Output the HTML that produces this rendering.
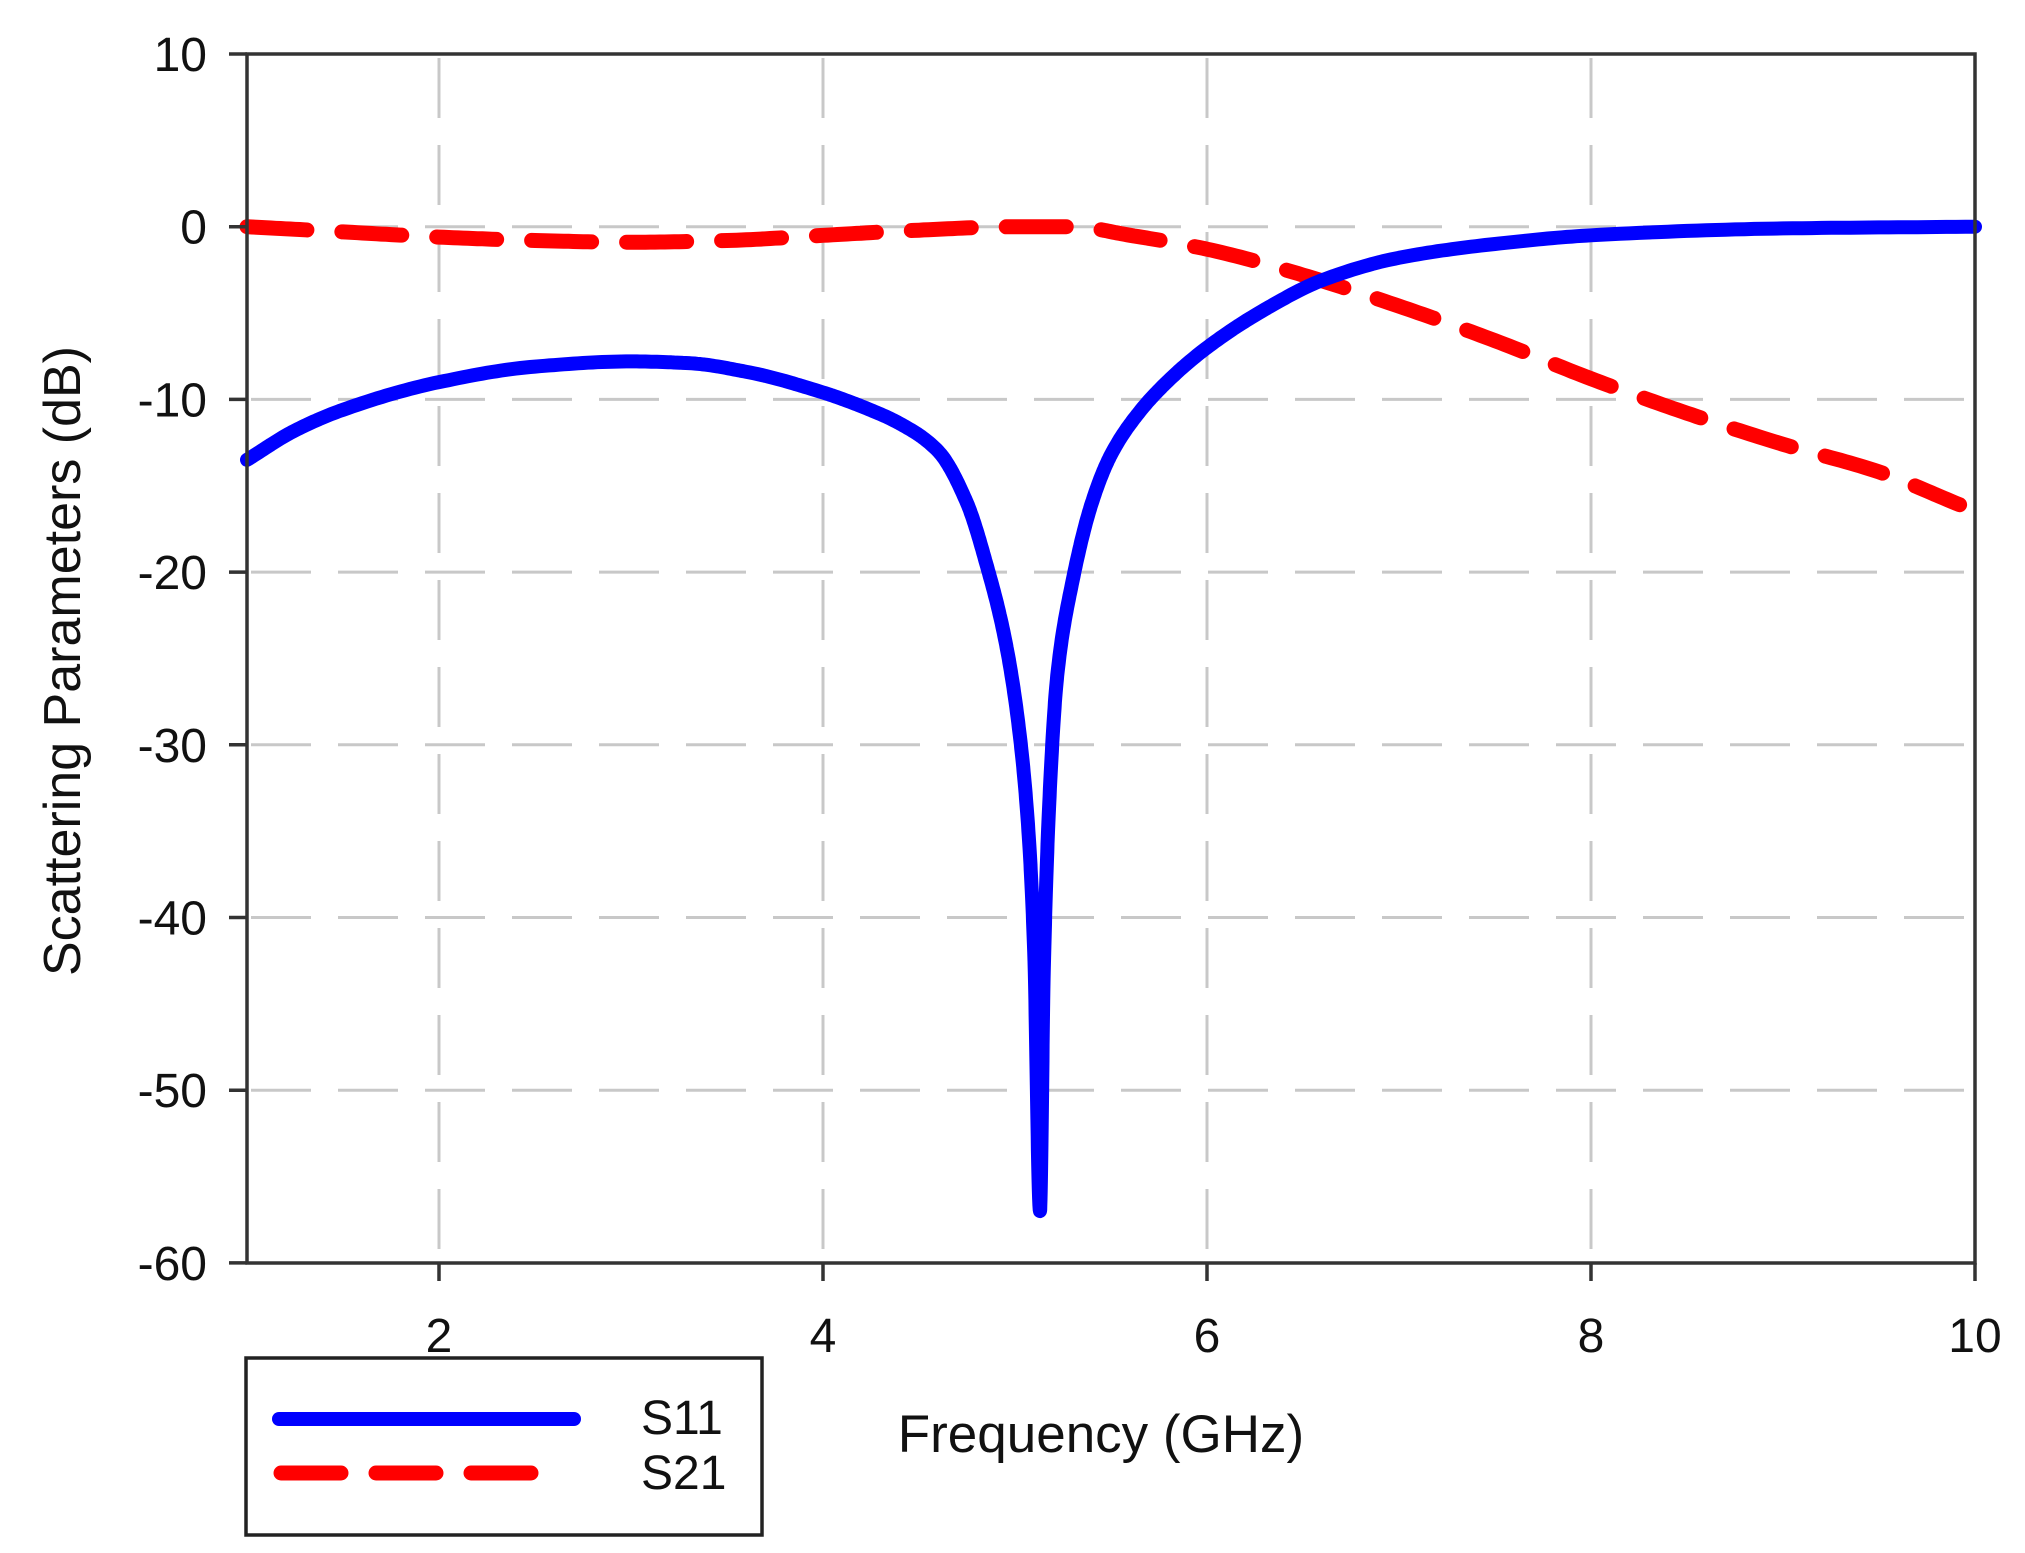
<!DOCTYPE html>
<html><head><meta charset="utf-8"><style>
html,body{margin:0;padding:0;background:#fff;}
svg{display:block;font-family:"Liberation Sans",Arial,sans-serif;}
</style></head><body>
<svg id="c" width="2025" height="1553" viewBox="0 0 2025 1553" xmlns="http://www.w3.org/2000/svg">
<rect width="2025" height="1553" fill="#fff"/>
<g id="grid" stroke="#c8c8c8" stroke-width="3" stroke-dasharray="60 27"></g>
<path id="s21" fill="none" stroke="#ff0000" stroke-width="15" stroke-linecap="round" stroke-linejoin="round" stroke-dasharray="60 35"/>
<path id="s11" fill="none" stroke="#0000ff" stroke-width="14" stroke-linecap="round" stroke-linejoin="round"/>
<rect x="247" y="54" width="1728" height="1209" fill="none" stroke="#333" stroke-width="3.5"/>
<g id="ticks" stroke="#333" stroke-width="3.5"></g>
<g id="labels" font-size="48" fill="#111"></g>
<text x="1101" y="1452" font-size="53" text-anchor="middle" fill="#111">Frequency (GHz)</text>
<text transform="translate(80,661) rotate(-90)" font-size="52" text-anchor="middle" fill="#111">Scattering Parameters (dB)</text>
<rect x="246" y="1358" width="516" height="177" fill="none" stroke="#222" stroke-width="3.5"/>
<line x1="279" y1="1419" x2="574" y2="1419" stroke="#0000ff" stroke-width="14" stroke-linecap="round"/>
<line x1="281" y1="1473" x2="545" y2="1473" stroke="#ff0000" stroke-width="15" stroke-linecap="round" stroke-dasharray="60 35"/>
<text x="641" y="1434" font-size="48" fill="#111">S11</text>
<text x="641" y="1489" font-size="48" fill="#111">S21</text>
</svg>
<script>
var X=function(f){return 247+(f-1)*192;};
var Y=function(d){return 226.7-d*17.27;};
var ns="http://www.w3.org/2000/svg";
function el(p,t,a,txt){var e=document.createElementNS(ns,t);for(var k in a)e.setAttribute(k,a[k]);if(txt!==undefined)e.textContent=txt;document.getElementById(p).appendChild(e);}
[2,4,6,8].forEach(function(f){el("grid","line",{x1:X(f),y1:Y(10)+4,x2:X(f),y2:Y(-60),});});
[0,-10,-20,-30,-40,-50].forEach(function(d){el("grid","line",{x1:X(1)+4,y1:Y(d),x2:X(10),y2:Y(d)});});
[2,4,6,8,10].forEach(function(f){el("ticks","line",{x1:X(f),y1:1263,x2:X(f),y2:1281});el("labels","text",{x:X(f),y:1352,"text-anchor":"middle"},String(f));});
[10,0,-10,-20,-30,-40,-50,-60].forEach(function(d){el("ticks","line",{x1:229,y1:Y(d),x2:247,y2:Y(d)});el("labels","text",{x:207,y:Y(d)+17,"text-anchor":"end"},String(d));});
function path(p){var n=p.length,dl=[],m=[],i;
 for(i=0;i<n-1;i++)dl[i]=(p[i+1][1]-p[i][1])/(p[i+1][0]-p[i][0]);
 m[0]=dl[0];m[n-1]=dl[n-2];
 for(i=1;i<n-1;i++){if(dl[i-1]*dl[i]<=0)m[i]=0;else{var h0=p[i][0]-p[i-1][0],h1=p[i+1][0]-p[i][0];var w1=2*h1+h0,w2=h1+2*h0;m[i]=(w1+w2)/(w1/dl[i-1]+w2/dl[i]);}}
 var s="M"+X(p[0][0]).toFixed(1)+" "+Y(p[0][1]).toFixed(1);
 for(i=0;i<n-1;i++){var h=p[i+1][0]-p[i][0];
  for(var k=1;k<=20;k++){var t=k/20,t2=t*t,t3=t2*t;
   var y=(2*t3-3*t2+1)*p[i][1]+(t3-2*t2+t)*h*m[i]+(-2*t3+3*t2)*p[i+1][1]+(t3-t2)*h*m[i+1];
   s+="L"+X(p[i][0]+h*t).toFixed(1)+" "+Y(y).toFixed(1);}}
 return s;}
var s11=[[1,-13.5],[1.25,-11.8],[1.5,-10.6],[2,-9.0],[2.5,-8.1],[3,-7.8],[3.3,-7.9],[3.6,-8.4],[4,-9.6],[4.2,-10.4],[4.4,-11.4],[4.6,-13],[4.75,-16],[4.85,-19.5],[4.95,-24],[5.02,-29],[5.07,-35],[5.1,-42],[5.13,-57],[5.15,-43],[5.18,-33],[5.22,-26],[5.3,-20.5],[5.4,-16],[5.5,-13.2],[5.65,-10.7],[5.8,-8.9],[6,-7],[6.3,-4.8],[6.6,-3.1],[7,-1.8],[7.5,-1.0],[8,-0.5],[9,-0.1],[10,0]];
var s21=[[1,0],[1.5,-0.3],[2,-0.6],[2.5,-0.8],[3,-0.9],[3.5,-0.8],[4,-0.5],[4.5,-0.2],[5,0],[5.3,0],[5.6,-0.5],[6,-1.3],[6.5,-2.8],[7,-4.6],[7.5,-6.6],[8,-8.8],[8.5,-10.8],[9,-12.6],[9.5,-14.2],[9.92,-16.1]];
document.getElementById("s11").setAttribute("d",path(s11));
document.getElementById("s21").setAttribute("d",path(s21));
</script>
</body></html>
